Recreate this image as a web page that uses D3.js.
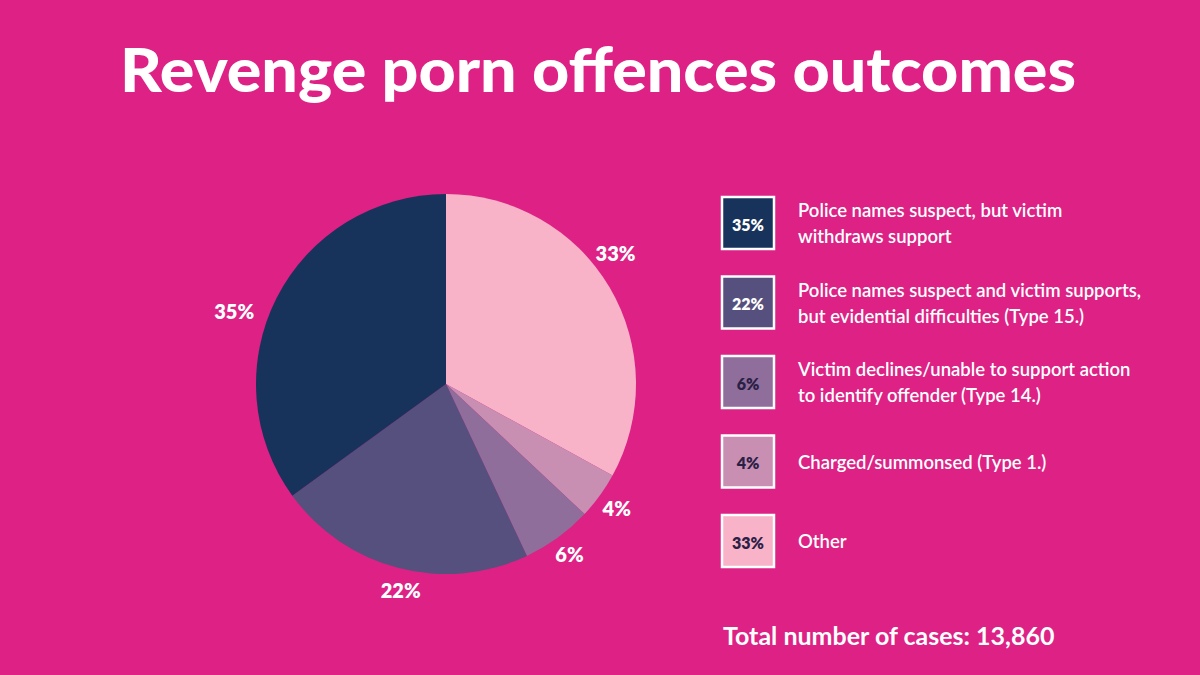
<!DOCTYPE html>
<html><head><meta charset="utf-8">
<script src="https://cdn.jsdelivr.net/npm/d3@7"></script>
<style>html,body{margin:0;padding:0;background:#DD2185;}svg{display:block;}</style>
</head><body>
<svg id="c" width="1200" height="675"></svg>
<script>
const title = "Revenge porn offences outcomes";
const categories = [
  "Other",
  "Charged/summonsed (Type 1.)",
  "Victim declines/unable to support action|to identify offender (Type 14.)",
  "Police names suspect and victim supports,|but evidential difficulties (Type 15.)",
  "Police names suspect, but victim|withdraws support"
];
const values = [33, 4, 6, 22, 35];
const colors = ["#F8B3C8", "#C98FB3", "#8F6E9B", "#55507E", "#17335C"];
const legendOrder = [4, 3, 2, 1, 0];
const boxTextColors = ["#FFFFFF", "#FFFFFF", "#2A2045", "#2A2045", "#2A2045"];
const totalText = "Total number of cases: 13,860";

const svg = d3.select("#c");
const W = 1200, H = 675;
svg.append("rect").attr("width", W).attr("height", H).attr("fill", "#DD2185");

svg.append("text").attr("x", 120).attr("y", 92)
  .attr("fill", "#fff").attr("font-family", "Lato").attr("font-weight", 900)
  .attr("font-size", 60).attr("textLength", 956).attr("lengthAdjust", "spacingAndGlyphs")
  .text(title);

const cx = 446, cy = 384, R = 190;
const g = svg.append("g").attr("transform", `translate(${cx},${cy})`);
const pie = d3.pie().sort(null).value(d => d);
const arcs = pie(values);
const arc = d3.arc().innerRadius(0).outerRadius(R);
g.selectAll("path").data(arcs).join("path").attr("d", arc).attr("fill", (d, i) => colors[i]);

// label placement tweaks (angle nudge in degrees, radius)
const labelNudge = [-7, 0, 0, -2, -8];
const labelRad = [214, 211, 210, 211, 224];
g.selectAll("text.lbl").data(arcs).join("text").attr("class", "lbl")
  .attr("transform", (d, i) => {
    const a = (d.startAngle + d.endAngle) / 2 + labelNudge[i] * Math.PI / 180;
    return `translate(${Math.sin(a) * labelRad[i]},${-Math.cos(a) * labelRad[i]})`;
  })
  .attr("text-anchor", "middle").attr("dominant-baseline", "central")
  .attr("fill", "#fff").attr("font-family", "Lato").attr("font-weight", 800)
  .attr("font-size", 20).text(d => d.data + "%");

const lg = svg.append("g");
const step = 79.5, bx = 722, by = 197, bs = 52;
legendOrder.forEach((idx, k) => {
  const y = by + k * step;
  lg.append("rect").attr("x", bx).attr("y", y).attr("width", bs).attr("height", bs)
    .attr("fill", colors[idx]).attr("stroke", "#fff").attr("stroke-width", 2.5);
  lg.append("text").attr("x", bx + bs / 2).attr("y", y + bs / 2 + 1)
    .attr("text-anchor", "middle").attr("dominant-baseline", "central")
    .attr("fill", boxTextColors[k]).attr("font-family", "Lato").attr("font-weight", 800)
    .attr("font-size", 16).text(values[idx] + "%");
  const lines = categories[idx].split("|");
  const t = lg.append("text").attr("fill", "#fff").attr("font-family", "Lato")
    .attr("font-weight", 600).attr("font-size", 18.5);
  lines.forEach((ln, j) => {
    t.append("tspan").attr("x", 798)
      .attr("y", y + bs / 2 + (j - (lines.length - 1) / 2) * 26)
      .attr("dominant-baseline", "central").text(ln);
  });
});

svg.append("text").attr("x", 723).attr("y", 645).attr("fill", "#fff")
  .attr("font-family", "Lato").attr("font-weight", 700).attr("font-size", 25).text(totalText);
</script>
</body></html>
